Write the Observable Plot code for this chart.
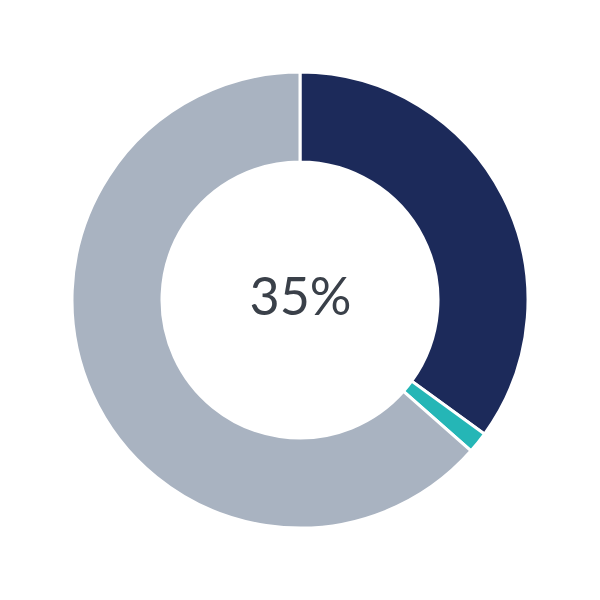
<!DOCTYPE html>
<html><head><meta charset="utf-8">
<script src="https://cdn.jsdelivr.net/npm/d3@7"></script>
<script src="https://cdn.jsdelivr.net/npm/@observablehq/plot@0.6"></script>
<style>html,body{margin:0;padding:0;background:#fff;}</style>
</head><body><div id="chart"></div>
<script>
const categories = ["Primary", "Secondary", "Remaining"];
const values = [35, 1.5, 63.5];
const colors = ["#1c2a5a", "#25b6b6", "#a9b3c1"];
const centerLabel = ["35%"];

const data = categories.map((c, i) => ({category: c, value: values[i], color: colors[i]}));

function donut(index, scales, vals, dims) {
  const cx = scales.x(0), cy = scales.y(0);
  const pie = d3.pie().sort(null).value(d => d.value)(data);
  const arc = d3.arc().innerRadius(138).outerRadius(228);
  const g = d3.create("svg:g").attr("transform", `translate(${cx},${cy})`);
  g.selectAll("path").data(pie).join("path")
    .attr("d", arc)
    .attr("fill", d => d.data.color)
    .attr("stroke", "#fff")
    .attr("stroke-width", 3)
    .attr("stroke-linejoin", "miter");
  return g.node();
}

const chart = Plot.plot({
  width: 600, height: 600, margin: 0,
  x: {domain: [-300, 300], axis: null},
  y: {domain: [300, -300], axis: null},
  style: {background: "#fff"},
  marks: [
    donut,
    Plot.text(centerLabel, {x: () => 0, y: () => 0, text: d => d, fontSize: 52, fontWeight: 400,
      fontFamily: "Lato", fill: "#3a4049", dy: -2})
  ]
});
document.getElementById("chart").appendChild(chart);
</script></body></html>
